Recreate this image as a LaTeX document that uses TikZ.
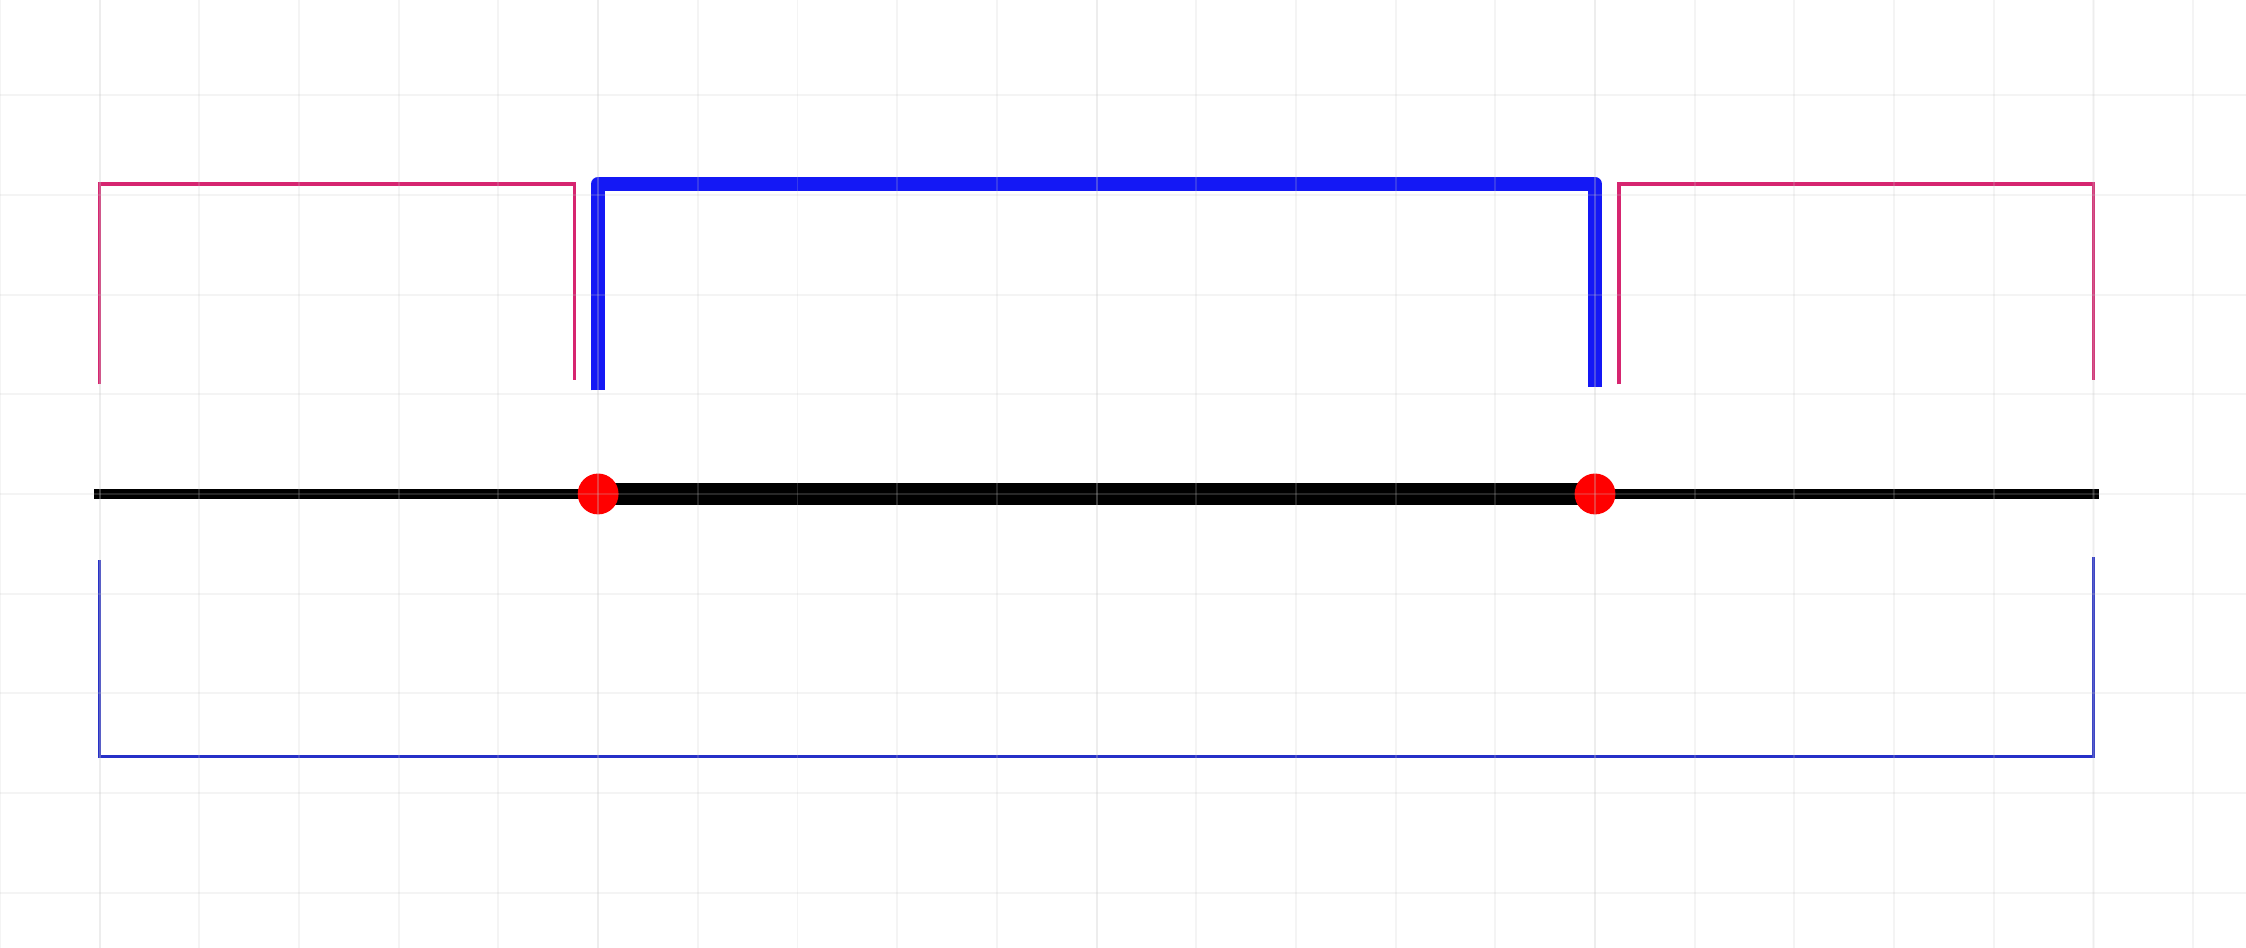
\documentclass[tikz,border=0pt]{standalone}
\usepackage{xcolor}
\usepackage{tikz}
\usetikzlibrary{positioning}
\definecolor{bracketpink}{RGB}{214, 37, 112}
\definecolor{spanblue}{RGB}{20, 24, 245}
\definecolor{lowblue}{RGB}{38, 48, 200}

\begin{document}
\begin{tikzpicture}[
    minorgrid/.style={draw=gray!45, opacity=0.2, line width=0.55pt},
    majorgrid/.style={draw=gray!45, opacity=0.15, line width=0.6pt},
    pinkbracket/.style={draw=bracketpink, line width=0.9pt},
    spanbracket/.style={draw=spanblue, line width=4pt, line join=round},
    lowbracket/.style={draw=lowblue, line width=0.9pt},
    thinseg/.style={draw=black, line width=3pt, line cap=rect},
    thickseg/.style={draw=black, line width=6.2pt},
    endpoint/.style={circle, fill=red, inner sep=0pt, minimum size=0.41cm}
]
\useasboundingbox (-1,-4.554) rectangle (21.53,4.955);

% Line and its points
\coordinate (left) at (0,0);
\coordinate (p) at (5,0);
\coordinate (q) at (15,0);
\coordinate (right) at (20,0);

\draw[thinseg] (left) -- (p);
\draw[thinseg] (q) -- (right);
\draw[thickseg] (p) -- (q);

\node[endpoint] (pdot) at (p) {};
\node[endpoint] (qdot) at (q) {};

% Brackets above
\draw[pinkbracket] (0,1.10) |- (4.76,3.11) -- (4.76,1.14);
\draw[spanbracket] (5,1.04) |- (15,3.11) -- (15,1.07);
\draw[pinkbracket] (15.24,1.10) |- (20,3.11) -- (20,1.14);

% Bracket below
\draw[lowbracket] (0,-0.66) |- (20,-2.63) -- (20,-0.63);

% Grid
\foreach \x in {-1,...,21}
    \draw[minorgrid] (\x,-4.554) -- (\x,4.955);
\foreach \y in {-4,...,4}
    \draw[minorgrid] (-1,\y) -- (21.53,\y);
\foreach \x in {0,5,10,15,20}
    \draw[majorgrid] (\x,-4.554) -- (\x,4.955);

\end{tikzpicture}
\end{document}
